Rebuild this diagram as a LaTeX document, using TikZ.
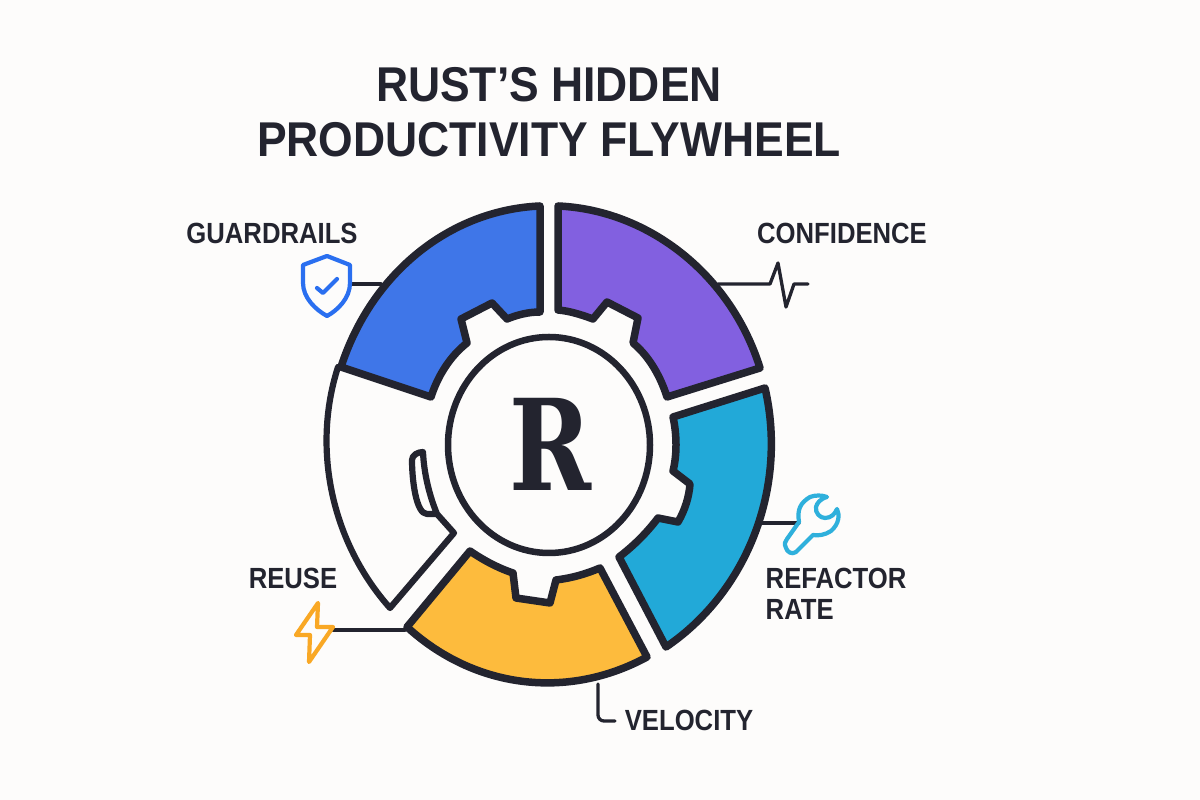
\documentclass[tikz,border=0pt]{standalone}
\usepackage{fontspec}
\setmainfont{Liberation Sans}
\newfontfamily\serifbold[FakeStretch=0.78]{DejaVu Serif}
\newfontfamily\tagfont[FakeStretch=0.88]{Liberation Sans}
\newfontfamily\titlefont[FakeStretch=0.91]{Liberation Sans}
\definecolor{ink}{HTML}{23242F}
\definecolor{paper}{HTML}{FDFCFB}
\definecolor{guardblue}{HTML}{3F76E8}
\definecolor{confpurple}{HTML}{8260E0}
\definecolor{refacteal}{HTML}{22A9D8}
\definecolor{velyellow}{HTML}{FDBB3D}
\definecolor{shieldblue}{HTML}{2A6FF0}
\definecolor{wrenchblue}{HTML}{2FB0DC}
\definecolor{boltorange}{HTML}{F9A825}
\begin{document}
\begin{tikzpicture}[x=0.1mm,y=-0.1mm,line join=round,line cap=round]
    \tikzstyle{segment}=[draw=ink,line width=0.75mm];
    \tikzstyle{leader}=[draw=ink,line width=0.33mm];
    \tikzstyle{icon}=[line width=0.42mm,fill=none];
    \tikzstyle{tag}=[inner sep=0pt,text=ink,font=\fontsize{8.3}{8.8}\selectfont\tagfont\bfseries];
    \tikzstyle{heading}=[inner sep=0pt,text=ink,align=center,font=\fontsize{13.9}{15.65}\selectfont\titlefont\bfseries];

    \fill[paper] (0, 0) rectangle (1200, 800);
    \useasboundingbox (0, 0) rectangle (1200, 800);

    \node at (549, 112) (title) [heading] {RUST’S HIDDEN\\PRODUCTIVITY FLYWHEEL};

    % wheel
    \draw[segment,line width=0.62mm,fill=paper] (338, 367) .. controls (311, 451) and (333, 544) .. (390, 608)
        -- (454, 533) -- (437, 514) .. controls (430, 497) and (424, 475) .. (423, 452)
        .. controls (418, 452) and (412, 455) .. (412, 460) .. controls (412, 480) and (416, 514) .. (427, 514) -- (437, 514);
    \draw[segment,fill=guardblue] (341, 367) .. controls (371, 274) and (449, 210) .. (540, 206)
        -- (540, 312) .. controls (528, 312) and (517, 315) .. (507, 319)
        -- (492, 303) -- (461, 319) -- (467, 343) .. controls (449, 357) and (437, 378) .. (431, 397) -- cycle;
    \draw[segment,fill=confpurple] (558, 206) .. controls (649, 210) and (731, 275) .. (760, 368)
        -- (667, 397) .. controls (661, 378) and (650, 357) .. (633, 343)
        -- (638, 318) -- (607, 302) -- (593, 319) .. controls (582, 315) and (570, 311) .. (558, 310) -- cycle;
    \draw[segment,fill=refacteal] (765, 388) .. controls (788, 488) and (747, 592) .. (666, 647)
        -- (619, 557) .. controls (632, 547) and (645, 535) .. (658, 518)
        -- (678, 522) .. controls (685, 510) and (689, 497) .. (690, 484)
        -- (673, 471) .. controls (677, 455) and (677, 435) .. (673, 417) -- cycle;
    \draw[segment,fill=velyellow] (647, 657) .. controls (568, 700) and (475, 689) .. (407, 627)
        -- (470, 551) .. controls (483, 560) and (498, 568) .. (513, 573)
        -- (516, 598) -- (550, 603) -- (556, 580) .. controls (572, 578) and (586, 574) .. (600, 568) -- cycle;
    \draw[segment,line width=0.65mm,fill=paper] (549, 445) ellipse [x radius=101, y radius=108];
    \node at (551, 444) (hub) [inner sep=0pt,text=ink,font=\fontsize{36}{36}\selectfont\serifbold\bfseries] {R};

    % leaders
    \coordinate (blueedge) at (381, 284);
    \coordinate (shieldedge) at (351, 284);
    \coordinate (purpleedge) at (718, 284);
    \coordinate (pulsestart) at (770, 284);
    \coordinate (tealedge) at (762, 523);
    \coordinate (wrenchedge) at (799, 523);
    \coordinate (yellowedge) at (405, 630);
    \coordinate (boltedge) at (333, 630);
    \coordinate (yellowlow) at (598, 684);
    \coordinate (velend) at (615, 721);
    \draw[leader] (blueedge) to (shieldedge);
    \draw[leader] (purpleedge) to (pulsestart) -- (778, 263) -- (786, 307) -- (794, 284) -- (808, 284);
    \draw[leader] (tealedge) to (wrenchedge);
    \draw[leader] (yellowedge) to (boltedge);
    \draw[leader,rounded corners=0.6mm] (yellowlow) -- (598, 721) -- (velend);

    % icons
    \draw[icon,shieldblue] (327, 256) -- (350, 265) -- (350, 283) .. controls (350, 298) and (338, 310) .. (327, 316)
        .. controls (316, 310) and (303, 298) .. (303, 283) -- (303, 265) -- cycle;
    \draw[icon,shieldblue] (317, 288) -- (323, 293) -- (337, 279);
    \draw[icon,wrenchblue] (799, 522) .. controls (797, 510) and (800, 503) .. (810, 497)
        .. controls (815, 495) and (822, 495) .. (827, 497) .. controls (820, 499) and (817, 503) .. (816, 507)
        .. controls (815, 513) and (820, 518) .. (825, 518) .. controls (831, 518) and (835, 514) .. (837, 509)
        .. controls (840, 515) and (839, 524) .. (831, 531) .. controls (825, 535) and (818, 536) .. (813, 535)
        -- (796, 552) .. controls (792, 555) and (787, 552) .. (786, 548) .. controls (784, 544) and (785, 541) .. (787, 539) -- cycle;
    \draw[icon,boltorange] (318, 603) -- (296, 635) -- (310, 635) -- (309, 662) -- (333, 627) -- (317, 627) -- cycle;

    % labels
    \node at (272, 233) (guardrails) [tag] {GUARDRAILS};
    \node at (842, 233) (confidence) [tag] {CONFIDENCE};
    \node at (765, 594) (refactor) [tag,anchor=west,align=left] {REFACTOR\\RATE};
    \node at (293, 578) (reuse) [tag] {REUSE};
    \node at (689, 720) (velocity) [tag] {VELOCITY};
\end{tikzpicture}
\end{document}
